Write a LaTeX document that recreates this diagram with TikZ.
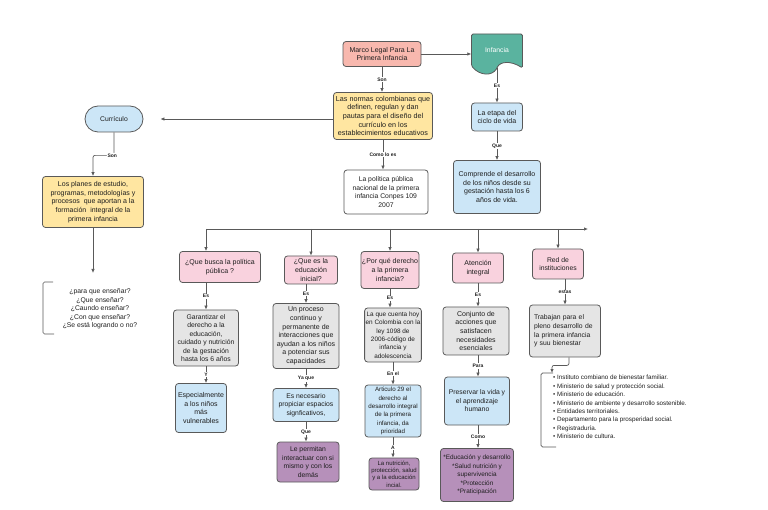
\documentclass[tikz,border=0pt]{standalone}
\usepackage{fontspec}
\setmainfont{Liberation Sans}
\usetikzlibrary{arrows.meta, calc}
\definecolor{linegray}{HTML}{595959}
\definecolor{boxline}{HTML}{595959}
\definecolor{salmon}{HTML}{F8B8AE}
\definecolor{sand}{HTML}{FFE6A1}
\definecolor{skyfill}{HTML}{CCE6F7}
\definecolor{rosefill}{HTML}{F9D2DE}
\definecolor{greyfill}{HTML}{E5E5E5}
\definecolor{plum}{HTML}{B690BA}
\definecolor{tealfill}{HTML}{5AB39F}
\definecolor{inkgray}{HTML}{1E1E1E}

\begin{document}
\begin{tikzpicture}[
  x=1pt, y=-1pt,
  box/.style={rectangle, rounded corners=3pt, draw=boxline, line width=0.8pt,
              align=center, inner sep=1pt, text=inkgray,
              font=\fontsize{7}{8.6}\selectfont},
  sz/.style 2 args={minimum width=#1pt, minimum height=#2pt},
  fmid/.style={font=\fontsize{6.8}{8.5}\selectfont},
  fsmall/.style={font=\fontsize{6.4}{8.4}\selectfont},
  qbox/.style={box, fill=rosefill},
  gbox/.style={box, fill=greyfill},
  bbox/.style={box, fill=skyfill},
  pbox/.style={box, fill=plum},
  ybox/.style={box, fill=sand},
  conn/.style={draw=linegray, line width=0.7pt, -{Latex[length=4pt,width=3.4pt]}},
  lbl/.style={fill=white, inner sep=0.8pt, text=inkgray,
              font=\fontsize{5}{6}\selectfont\bfseries},
  bracket/.style={draw=linegray, line width=0.7pt, rounded corners=1.5pt}
]
  \useasboundingbox (0,0) rectangle (768,510);

  \filldraw[fill=tealfill, draw=boxline, line width=0.8pt, rounded corners=1.5pt]
    (471.5,34) -- (522.5,34) -- (522.5,68)
    .. controls (510,60) and (500,62) .. (497,68)
    .. controls (492,76) and (480,76) .. (471.5,66) -- cycle;
  \node[inner sep=0pt, minimum width=51pt, minimum height=36pt, text=white,
        font=\fontsize{6.8}{8}\selectfont] (infancia) at (497,50) {Infancia};

  \node[box, fill=salmon, sz={78}{25}] (marco) at (382,54) {Marco Legal Para La\\Primera Infancia};
  \node[ybox, sz={99}{47}, font=\fontsize{7.2}{8.6}\selectfont] (normas) at (383,116)
    {Las normas colombianas que\\definen, regulan y dan\\pautas para el diseño del\\currículo en los\\establecimientos educativos};
  \node[box, fill=white, sz={84}{44}, fmid] (politica) at (386,192)
    {La política pública\\nacional de la primera\\infancia Conpes 109\\2007};
  \node[bbox, sz={51}{28}] (etapa) at (497,117) {La etapa del\\ciclo de vida};
  \node[bbox, sz={87}{53}] (comprende) at (497,187)
    {Comprende el desarrollo\\de los niños desde su\\gestación hasta los 6\\años de vida.};

  \node[bbox, sz={58}{26}, rounded corners=13pt, fmid] (curriculo) at (114,119) {Currículo};
  \node[ybox, sz={101}{51}] (planes) at (93,202)
    {Los planes de estudio,\\programas, metodologías y\\procesos\ \ que aportan a la\\formación\ \ integral de la\\primera infancia};
  \node[inner sep=0pt, align=center, text=inkgray, font=\fontsize{6.8}{8.6}\selectfont] (preguntas) at (100,309)
    {¿para que enseñar?\\¿Que enseñar?\\¿Caundo enseñar?\\¿Con que enseñar?\\¿Se está logrando o no?};
  \coordinate (pregtop) at (93,273);
  \draw[bracket] (53,282) -- (43,282) -- (43,334) -- (54,334);

  \node[qbox, sz={81}{31}] (busca) at (220,267) {¿Que busca la política\\pública ?};
  \node[gbox, sz={65}{56}, fmid] (garantizar) at (206,338)
    {Garantizar el\\derecho a la\\educación,\\cuidado y nutrición\\de la gestación\\hasta los 6 años};
  \node[bbox, sz={51}{49}] (especial) at (201,408) {Especialmente\\a los niños\\más\\vulnerables};

  \node[qbox, sz={53}{28}] (edu) at (311,270) {¿Que es la\\educación\\inicial?};
  \node[gbox, sz={66}{65}] (proceso) at (306,336)
    {Un proceso\\continuo y\\permanente de\\interacciones que\\ayudan a los niños\\a potenciar sus\\capacidades};
  \node[bbox, sz={66}{33}, fmid] (necesario) at (306,405) {Es necesario\\propiciar espacios\\signficativos,};
  \node[pbox, sz={62}{40}, fmid] (permitan) at (308,462)
    {Le permitan\\interactuar con si\\mismo y con los\\demás};

  \node[qbox, sz={55}{37}] (porque) at (390,270) {¿Por qué derecho\\a la primera\\infancia?};
  \node[gbox, sz={56}{54}, fsmall] (cuenta) at (393,335)
    {La que cuenta hoy\\en Colombia con la\\ley 1098 de\\2006-código de\\infancia y\\adolescencia};
  \node[bbox, sz={56}{52}, font=\fontsize{6.2}{8.3}\selectfont] (articulo) at (393,411)
    {Articulo 29 el\\derecho al\\desarrollo integral\\de la primera\\infancia, da\\prioridad};
  \node[pbox, sz={50}{32}, font=\fontsize{6}{7.4}\selectfont] (nutricion) at (394,474)
    {La nutrición,\\protección, salud\\y a la educación\\incial.};

  \node[qbox, sz={51}{30}] (atencion) at (478,268) {Atención\\integral};
  \node[gbox, sz={66}{48}] (conjunto) at (476,331)
    {Conjunto de\\acciones que\\satisfacen\\necesidades\\esenciales};
  \node[bbox, sz={65}{48}, fmid] (preservar) at (477,401) {Preservar la vida y\\el aprendizaje\\humano};
  \node[pbox, sz={73}{53}, fsmall] (educacion) at (477,475)
    {*Educación y desarrollo\\*Salud nutrición y\\supervivencia\\*Protección\\*Praticipación};

  \node[qbox, sz={51}{30}, fmid] (red) at (558,264) {Red de\\instituciones};
  \node[gbox, sz={71}{52}, align=left, text width=62pt, font=\fontsize{6.8}{8.6}\selectfont] (trabajan) at (565,331)
    {Trabajan para el\\pleno desarrollo de\\la primera infancia\\y suu bienestar};
  \node[inner sep=0pt, anchor=west, align=left, text=inkgray, font=\fontsize{6.3}{8.4}\selectfont] (redlist) at (553,407)
    {• Instituto combiano de bienestar familiar.\\• Ministerio de salud y protección social.\\• Ministerio de educación.\\• Ministerio de ambiente y desarrollo sostenible.\\• Entidades territoriales.\\• Departamento para la prosperidad social.\\• Registraduría.\\• Ministerio de cultura.};
  \coordinate (listtop) at (552,373);
  \draw[bracket] (553,373) -- (541,373) -- (541,447) -- (556,447);

  \coordinate (busL) at (206,229);
  \coordinate (busR) at (588,229);

  \draw[conn] (marco.east) -- (marco.east -| infancia.west);
  \draw[conn] (marco.south) -- node[lbl] {Son} (marco.south |- normas.north);
  \draw[conn] (normas.south) -- node[lbl] {Como lo es} (normas.south |- politica.north);
  \draw[conn, shorten >=17pt] (normas.west |- curriculo.east) -- (curriculo.east);
  \draw[conn] (infancia.south) -- node[lbl] {Es} (etapa.north);
  \draw[conn] (etapa.south) -- node[lbl] {Que} (comprende.north);
  \draw[conn, rounded corners=2pt] (curriculo.south) -- ++(0,23) -| node[lbl, pos=0.04] {Son} (planes.north);
  \draw[conn] (planes.south) -- (pregtop);

  \draw[conn] (busL) -- (busR);
  \draw[conn] (busL) -- (busL |- busca.north);
  \draw[conn] (busL -| edu.north) -- (edu.north);
  \draw[conn] (busL -| porque.north) -- (porque.north);
  \draw[conn] (busL -| atencion.north) -- (atencion.north);
  \draw[conn] (busL -| red.north) -- (red.north);

  \draw[conn] (garantizar.north |- busca.south) -- node[lbl] {Es} (garantizar.north);
  \draw[conn] (garantizar.south) -- node[lbl] {Y} (garantizar.south |- especial.north);
  \draw[conn] (proceso.north |- edu.south) -- node[lbl] {Es} (proceso.north);
  \draw[conn] (proceso.south) -- node[lbl] {Ya que} (necesario.north);
  \draw[conn] (necesario.south) -- node[lbl] {Que} (necesario.south |- permitan.north);
  \draw[conn] (porque.south) -- node[lbl] {Es} (porque.south |- cuenta.north);
  \draw[conn] (cuenta.south) -- node[lbl] {En el} (articulo.north);
  \draw[conn] (articulo.south) -- node[lbl] {A} (articulo.south |- nutricion.north);
  \draw[conn] (atencion.south) -- node[lbl] {Es} (atencion.south |- conjunto.north);
  \draw[conn] (conjunto.south -| atencion.south) -- node[lbl] {Para} (atencion.south |- preservar.north);
  \draw[conn] (preservar.south -| atencion.south) -- node[lbl] {Como} (atencion.south |- educacion.north);
  \draw[conn] (trabajan.north |- red.south) -- node[lbl] {estas} (trabajan.north);
  \draw[conn, rounded corners=2pt] ([xshift=4pt]trabajan.south) -- ++(0,8) -| (listtop);
\end{tikzpicture}
\end{document}
